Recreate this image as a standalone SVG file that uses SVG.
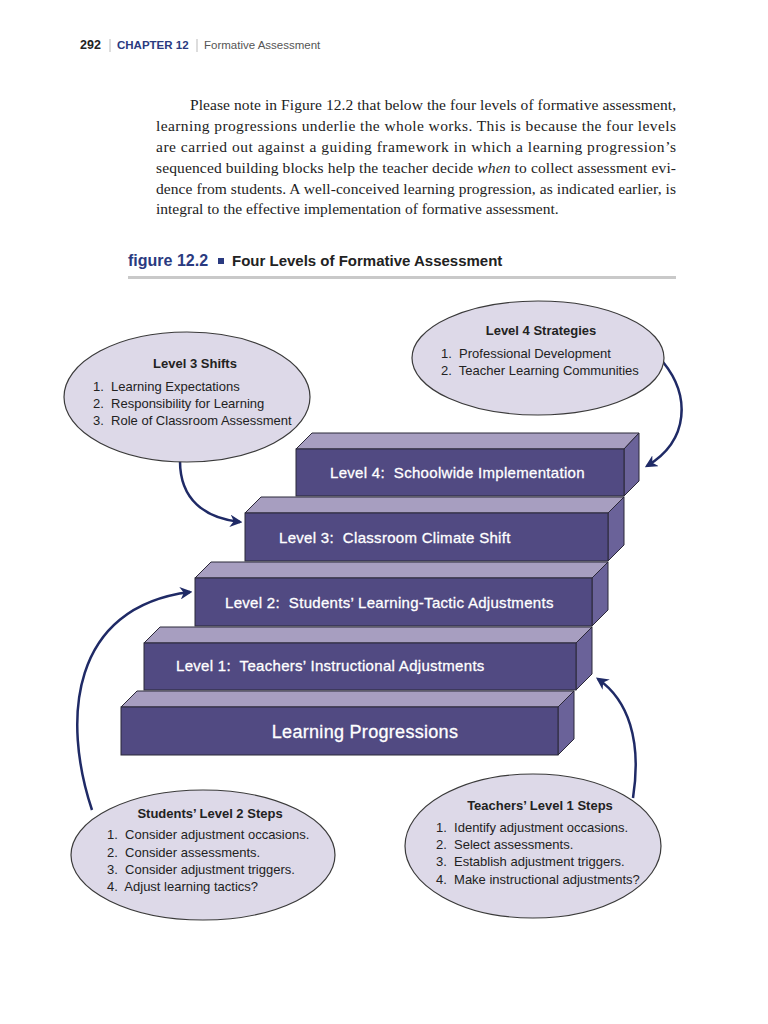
<svg xmlns="http://www.w3.org/2000/svg" width="768" height="1024" viewBox="0 0 768 1024">
<defs>
<marker id="ah" viewBox="0 0 10 10" refX="8" refY="5" markerWidth="5" markerHeight="5" orient="auto" markerUnits="strokeWidth">
<path d="M0,0 L10,5 L0,10 L3,5 z" fill="#1f2a66"/>
</marker>
</defs>
<style>
.hdr{font-family:"Liberation Sans",Arial,sans-serif;font-size:11.5px}
.para{font-family:"Liberation Serif","Times New Roman",serif;font-size:15.5px;fill:#222}
.front{fill:#514a82;stroke:#2b2838;stroke-width:1}
.top{fill:#a79ec0;stroke:#2b2838;stroke-width:1}
.side{fill:#6a6299;stroke:#2b2838;stroke-width:1}
.lbl{font-family:"Liberation Sans",Arial,sans-serif;font-size:15px;letter-spacing:0.3px;fill:#ffffff;stroke:#ffffff;stroke-width:0.3}
.lbl-big{font-size:18px}
.ell{fill:#ddd9e8;stroke:#3a3a3a;stroke-width:1.2}
.et{font-family:"Liberation Sans",Arial,sans-serif;font-size:13px;fill:#222}
.eh{font-family:"Liberation Sans",Arial,sans-serif;font-size:13px;font-weight:bold;fill:#222}
.conn{fill:none;stroke:#1f2a66;stroke-width:2.5;marker-end:url(#ah)}
</style>
<rect width="768" height="1024" fill="#ffffff"/>

<g id="header">
<text class="hdr" x="80" y="49" font-weight="bold" fill="#222" style="font-size:12.5px">292</text>
<line x1="110" y1="39" x2="110" y2="52" stroke="#bbb" stroke-width="1"/>
<text class="hdr" x="117" y="49" font-weight="bold" fill="#2a3a80">CHAPTER 12</text>
<line x1="197" y1="39" x2="197" y2="52" stroke="#bbb" stroke-width="1"/>
<text class="hdr" x="204" y="49" fill="#555">Formative Assessment</text>
</g>

<g id="paragraph">
<text class="para" x="190" y="110" textLength="486" lengthAdjust="spacing">Please note in Figure 12.2 that below the four levels of formative assessment,</text>
<text class="para" x="156" y="131" textLength="520" lengthAdjust="spacing">learning progressions underlie the whole works. This is because the four levels</text>
<text class="para" x="156" y="152" textLength="520" lengthAdjust="spacing">are carried out against a guiding framework in which a learning progression’s</text>
<text class="para" x="156" y="173" textLength="520" lengthAdjust="spacing">sequenced building blocks help the teacher decide <tspan font-style="italic">when</tspan> to collect assessment evi-</text>
<text class="para" x="156" y="194" textLength="520" lengthAdjust="spacing">dence from students. A well-conceived learning progression, as indicated earlier, is</text>
<text class="para" x="156" y="214">integral to the effective implementation of formative assessment.</text>
</g>

<g id="figure-title">
<text x="128" y="266" font-family="'Liberation Sans',Arial,sans-serif" font-size="16" font-weight="bold" fill="#2a3a80">figure 12.2</text>
<rect x="218" y="258" width="6" height="6" fill="#2a3a80"/>
<text x="232" y="266" font-family="'Liberation Sans',Arial,sans-serif" font-size="15" font-weight="bold" fill="#222">Four Levels of Formative Assessment</text>
<rect x="128" y="276" width="548" height="3" fill="#c9c9c9"/>
</g>

<g id="step-learning-progressions">
<polygon class="top" points="121,707 137,691 574,691 558,707"/>
<polygon class="side" points="558,707 574,691 574,739 558,755"/>
<rect class="front" x="121" y="707" width="437" height="48"/>
<text class="lbl lbl-big" x="365" y="738" text-anchor="middle">Learning Progressions</text>
</g>

<g id="step-level1">
<polygon class="top" points="144,643 160,627 592,627 576,643"/>
<polygon class="side" points="576,643 592,627 592,674 576,690"/>
<rect class="front" x="144" y="643" width="432" height="47"/>
<text class="lbl" x="176" y="671" xml:space="preserve">Level 1:  Teachers’ Instructional Adjustments</text>
</g>

<g id="step-level2">
<polygon class="top" points="195,578 211,562 608,562 592,578"/>
<polygon class="side" points="592,578 608,562 608,610 592,626"/>
<rect class="front" x="195" y="578" width="397" height="48"/>
<text class="lbl" x="225" y="608" xml:space="preserve">Level 2:  Students’ Learning-Tactic Adjustments</text>
</g>

<g id="step-level3">
<polygon class="top" points="245,513 261,497 624,497 608,513"/>
<polygon class="side" points="608,513 624,497 624,545 608,561"/>
<rect class="front" x="245" y="513" width="363" height="48"/>
<text class="lbl" x="279" y="543" xml:space="preserve">Level 3:  Classroom Climate Shift</text>
</g>

<g id="step-level4">
<polygon class="top" points="296,449 312,433 639,433 624,449"/>
<polygon class="side" points="624,449 639,433 639,481 624,496"/>
<rect class="front" x="296" y="449" width="328" height="47"/>
<text class="lbl" x="330" y="478" xml:space="preserve">Level 4:  Schoolwide Implementation</text>
</g>

<g id="connectors">
<path class="conn" d="M663,362 C690,395 690,440 647,466"/>
<path class="conn" d="M180,461 C180,500 205,518 240,522"/>
<path class="conn" d="M92,810 C62,720 70,607 190,592"/>
<path class="conn" d="M633,798 C642,740 628,700 598,679"/>
</g>

<g id="level4-strategies">
<ellipse class="ell" cx="538" cy="358" rx="126" ry="57"/>
<text class="eh" x="541" y="335" text-anchor="middle">Level 4 Strategies</text>
<text class="et" x="441" y="358" xml:space="preserve">1.  Professional Development</text>
<text class="et" x="441" y="375" xml:space="preserve">2.  Teacher Learning Communities</text>
</g>

<g id="level3-shifts">
<ellipse class="ell" cx="187" cy="397" rx="123" ry="65"/>
<text class="eh" x="195" y="368" text-anchor="middle">Level 3 Shifts</text>
<text class="et" x="93" y="391" xml:space="preserve">1.  Learning Expectations</text>
<text class="et" x="93" y="408" xml:space="preserve">2.  Responsibility for Learning</text>
<text class="et" x="93" y="425" xml:space="preserve">3.  Role of Classroom Assessment</text>
</g>

<g id="students-level2-steps">
<ellipse class="ell" cx="203" cy="855" rx="132" ry="65"/>
<text class="eh" x="210" y="818" text-anchor="middle">Students’ Level 2 Steps</text>
<text class="et" x="107" y="839" xml:space="preserve">1.  Consider adjustment occasions.</text>
<text class="et" x="107" y="857" xml:space="preserve">2.  Consider assessments.</text>
<text class="et" x="107" y="874" xml:space="preserve">3.  Consider adjustment triggers.</text>
<text class="et" x="107" y="891" xml:space="preserve">4.  Adjust learning tactics?</text>
</g>

<g id="teachers-level1-steps">
<ellipse class="ell" cx="533" cy="846" rx="128" ry="72"/>
<text class="eh" x="540" y="810" text-anchor="middle">Teachers’ Level 1 Steps</text>
<text class="et" x="436" y="832" xml:space="preserve">1.  Identify adjustment occasions.</text>
<text class="et" x="436" y="849" xml:space="preserve">2.  Select assessments.</text>
<text class="et" x="436" y="866" xml:space="preserve">3.  Establish adjustment triggers.</text>
<text class="et" x="436" y="884" xml:space="preserve">4.  Make instructional adjustments?</text>
</g>
</svg>
